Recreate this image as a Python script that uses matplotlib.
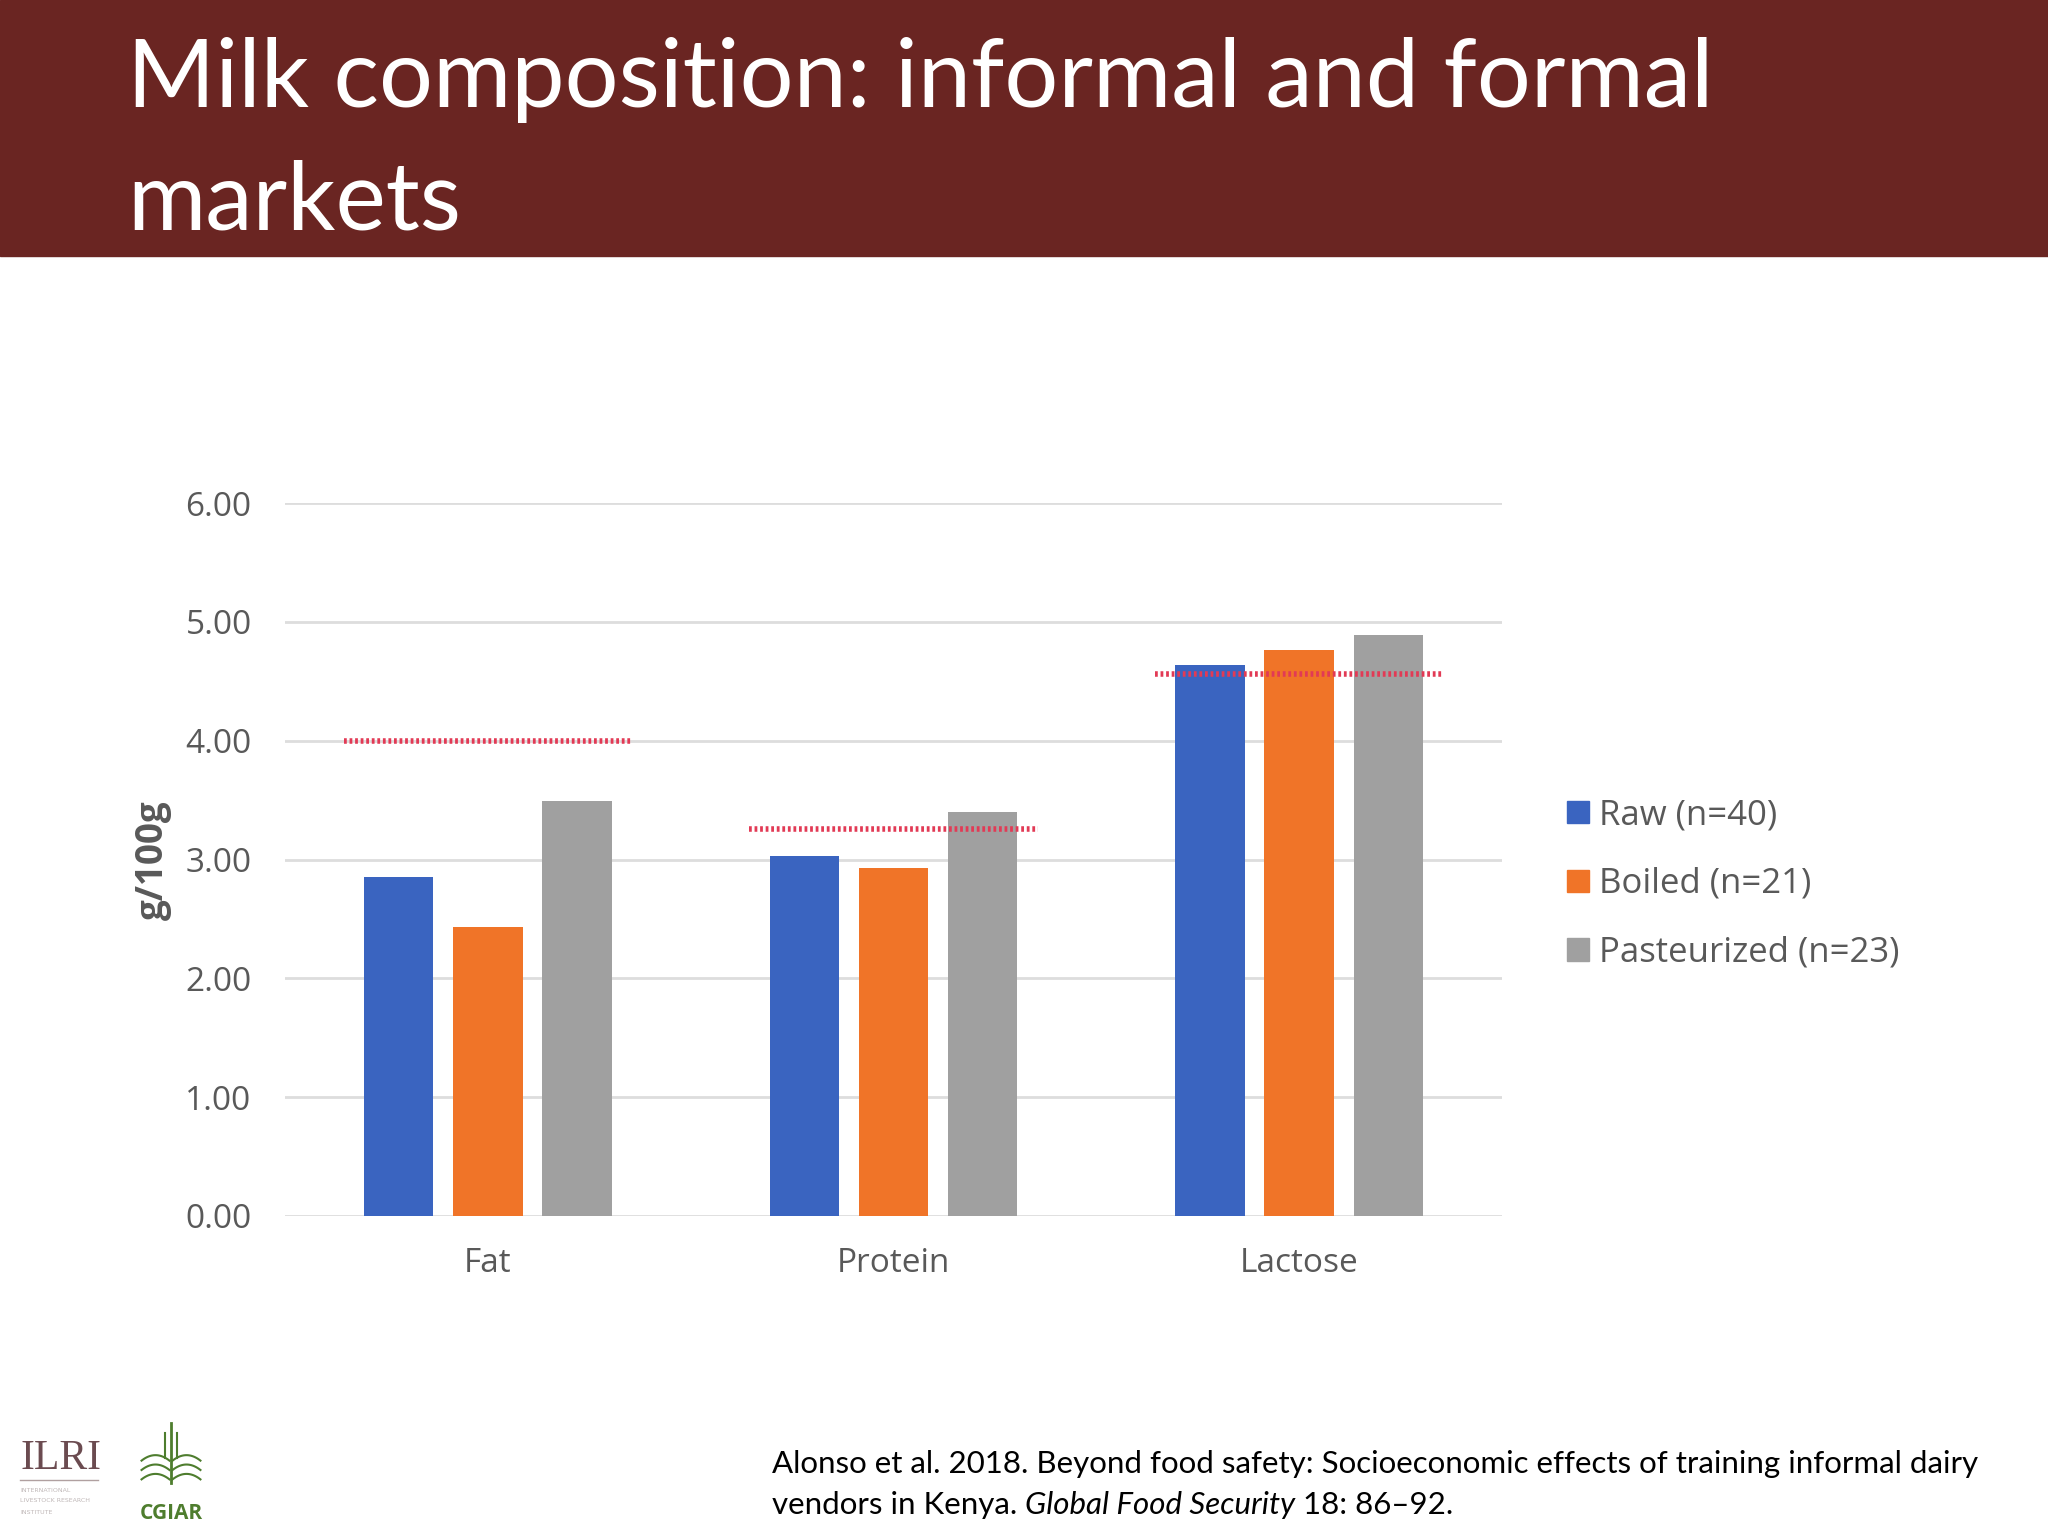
import numpy as np
import matplotlib.pyplot as plt
from matplotlib.patches import Rectangle, Patch

# data
categories = ['Fat', 'Protein', 'Lactose']
series = ['Raw (n=40)', 'Boiled (n=21)', 'Pasteurized (n=23)']
raw = [2.85, 3.03, 4.64]
boiled = [2.43, 2.93, 4.76]
pasteurized = [3.49, 3.40, 4.89]
reference = [4.00, 3.26, 4.56]
yticks = [0, 1, 2, 3, 4, 5, 6]

colors = ['#3A64C0', '#F07428', '#A0A0A0']
gray_text = '#595959'

fig = plt.figure(figsize=(20.48, 15.36), dpi=100)
fig.patch.set_facecolor('white')

# header band
fig.patches.append(Rectangle((0, 1 - 256 / 1536), 1, 256 / 1536,
                             transform=fig.transFigure, color='#6A2522', zorder=0))
fig.text(127 / 2048, 1 - 107 / 1536, 'Milk composition: informal and formal',
         color='white', fontsize=68.5, family='Lato', va='baseline')
fig.text(127 / 2048, 1 - 229 / 1536, 'markets',
         color='white', fontsize=68.5, family='Lato', va='baseline')

ax = fig.add_axes([285 / 2048, 1 - 1216 / 1536, (1502 - 285) / 2048, (1216 - 503) / 1536])
x = np.arange(len(categories))
w = 0.171
step = 0.22
for k, vals in enumerate([raw, boiled, pasteurized]):
    ax.bar(x + (k - 1) * step, vals, width=w, color=colors[k], zorder=3, label=series[k])

ax.hlines(reference, x - 0.355, x + 0.355, colors='#E23A55', linestyles=(0, (0.5, 0.5)),
          linewidth=4, zorder=4)

ax.set_xlim(-0.5, 2.5)
ax.set_ylim(0, 6)
ax.set_yticks(yticks)
ax.set_yticklabels([f'{v:.2f}' for v in yticks])
ax.set_xticks(x)
ax.set_xticklabels(categories)
ax.tick_params(axis='both', length=0, labelsize=24, labelcolor=gray_text)
ax.tick_params(axis='y', pad=24)
ax.tick_params(axis='x', pad=22)
for lbl in ax.get_xticklabels() + ax.get_yticklabels():
    lbl.set_family('Open Sans')
ax.grid(axis='y', color='#DDDDDD', linewidth=2, zorder=0)
for s in ax.spines.values():
    s.set_visible(False)

fig.text(153 / 2048, 1 - 860 / 1536, 'g/100g', rotation=90, ha='center', va='center',
         fontsize=26.5, fontweight='bold', color=gray_text, family='Open Sans')

handles = [Patch(color=c) for c in colors]
leg = ax.legend(handles, series, loc='center left', bbox_to_anchor=(1567 / 2048, 1 - 884 / 1536),
                bbox_transform=fig.transFigure, frameon=False, handlelength=0.62, handleheight=0.62,
                handletextpad=0.3, labelspacing=1.0, borderpad=0, borderaxespad=0,
                prop={'family': 'Open Sans', 'size': 25})
for t in leg.get_texts():
    t.set_color(gray_text)

# citation
fs = 22.5
fig.text(772 / 2048, 1 - 1473 / 1536,
         'Alonso et al. 2018. Beyond food safety: Socioeconomic effects of training informal dairy',
         fontsize=fs, family='Lato', color='black', va='baseline')
t1 = fig.text(772 / 2048, 1 - 1514 / 1536, 'vendors in Kenya. ', fontsize=fs, family='Lato',
              color='black', va='baseline')
fig.canvas.draw()
r = fig.canvas.get_renderer()
e1 = t1.get_window_extent(r)
t2 = fig.text(e1.x1 / 2048, 1 - 1514 / 1536, 'Global Food Security', fontsize=fs, family='Lato',
              style='italic', color='black', va='baseline')
e2 = t2.get_window_extent(r)
fig.text(e2.x1 / 2048, 1 - 1514 / 1536, ' 18: 86\u201392.', fontsize=fs, family='Lato',
         color='black', va='baseline')

# logos
fig.text(20 / 2048, 1 - 1469 / 1536, 'ILRI', fontsize=30, family='Liberation Serif',
         color='#6B4B50', va='baseline')
fig.add_artist(plt.Line2D([20 / 2048, 98 / 2048], [1 - 1480 / 1536, 1 - 1480 / 1536],
                          color='#B0A0A0', linewidth=1))
for i, s in enumerate(['INTERNATIONAL', 'LIVESTOCK RESEARCH', 'INSTITUTE']):
    fig.text(20 / 2048, 1 - (1490 + i * 11) / 1536, s, fontsize=4.5, color='#C0B8B8',
             family='DejaVu Sans', va='center')

fig.text(171 / 2048, 1 - 1519 / 1536, 'CGIAR', fontsize=15, fontweight='bold', family='Open Sans',
         color='#4E7D2E', ha='center', va='baseline')
lax = fig.add_axes([140 / 2048, 1 - 1495 / 1536, 62 / 2048, 75 / 1536])
lax.set_xlim(-1, 1)
lax.set_ylim(0, 1.2)
lax.axis('off')
g = '#4E7D2E'
lax.plot([0, 0], [0.2, 1.15], color=g, lw=2)
lax.plot([-0.2, -0.2], [0.6, 1.0], color=g, lw=1.5)
lax.plot([0.2, 0.2], [0.6, 1.0], color=g, lw=1.5)
tt = np.linspace(0, 1, 30)
for off in [0.0, 0.15, 0.3]:
    lax.plot(-0.05 - 0.9 * tt, 0.25 + off + 0.35 * tt - 0.35 * tt ** 2, color=g, lw=1.5)
    lax.plot(0.05 + 0.9 * tt, 0.25 + off + 0.35 * tt - 0.35 * tt ** 2, color=g, lw=1.5)

fig.savefig('out.png', dpi=100)
